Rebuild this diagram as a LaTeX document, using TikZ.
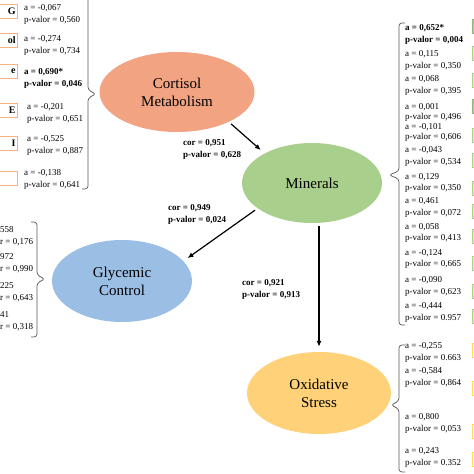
\documentclass[tikz,border=0pt]{standalone}
\usepackage{fontspec}
\setmainfont{Liberation Serif}
\usetikzlibrary{positioning, calc, shapes.geometric, arrows.meta}
\definecolor{cortisolfill}{RGB}{242,164,130}
\definecolor{cortisolline}{RGB}{244,177,131}
\definecolor{mineralfill}{RGB}{168,207,140}
\definecolor{mineralline}{RGB}{169,209,142}
\definecolor{mineraldark}{RGB}{150,180,125}
\definecolor{glycemicfill}{RGB}{155,190,228}
\definecolor{oxidativefill}{RGB}{255,210,122}
\definecolor{oxidativeline}{RGB}{255,217,102}
\tikzstyle{Arrow} = [
%Arrow between two constructs:
line width=1.2pt,
-{Latex[length=6pt, width=5pt]},
shorten >= 5pt, shorten <= 3pt
]

\begin{document}
\begin{tikzpicture}[x=1pt, y=-1pt,
			construct/.style = {ellipse, align=center, inner sep=0pt, font=\fontsize{15}{18}\selectfont},
			stats/.style = {anchor=west, align=left, inner sep=0pt, font=\fontsize{9}{12}\selectfont},
			boldstats/.style = {stats, font=\fontsize{9}{12}\selectfont\bfseries},
			minstats/.style = {stats, font=\fontsize{9}{11.5}\selectfont},
			bracket/.style = {draw=black!65, line width=0.7pt, rounded corners=3pt},
			itembox/.style = {rectangle, line width=0.8pt, minimum height=14pt, inner sep=2pt},
		]
		\useasboundingbox (0,0) rectangle (474,474);
		\clip (0,0) rectangle (474,474);

		% constructs
		\node[construct, fill=cortisolfill, minimum width=155pt, minimum height=80pt](Cortisol) at (177,92){Cortisol\\Metabolism};
		\node[construct, fill=mineralfill, minimum width=140pt, minimum height=80pt](Minerals) at (312,183){Minerals};
		\node[construct, fill=glycemicfill, minimum width=140pt, minimum height=82pt](Glycemic) at (122,281){Glycemic\\Control};
		\node[construct, fill=oxidativefill, minimum width=144pt, minimum height=82pt](Oxidative) at (319,393){Oxidative\\Stress};

		\draw[Arrow](Cortisol.-30)--(Minerals.148);
		\draw[Arrow](Minerals.205)--(Glycemic.18);
		\draw[Arrow](Minerals.south -| Oxidative.north)--(Oxidative.north);

		\node[boldstats](cor1) at (183,149.5){cor = 0,951\\p-valor = 0,628};
		\node[boldstats](cor2) at (168,214.5){cor = 0,949\\p-valor = 0,024};
		\node[boldstats](cor3) at (242,289){cor = 0,921\\p-valor = 0,913};

		% cortisol indicators
		\node[itembox, draw=cortisolline, anchor=east, text width=40pt, align=right, font=\fontsize{10}{12}\selectfont\bfseries](cb1) at (18,11.5){G};
		\node[itembox, draw=cortisolline, anchor=east, text width=40pt, align=right, font=\fontsize{10}{12}\selectfont\bfseries](cb2) at (18,40){ol};
		\node[itembox, draw=cortisolline, anchor=east, text width=40pt, align=right, font=\fontsize{10}{12}\selectfont\bfseries](cb3) at (18,71.5){e};
		\node[itembox, draw=cortisolline, anchor=east, text width=40pt, align=right, font=\fontsize{10}{12}\selectfont\bfseries](cb4) at (18,110){E};
		\node[itembox, draw=cortisolline, anchor=east, text width=40pt, align=right, font=\fontsize{10}{12}\selectfont\bfseries](cb5) at (18,143.5){I};
		\node[itembox, draw=cortisolline, anchor=east, text width=40pt, align=right, font=\fontsize{10}{12}\selectfont\bfseries](cb6) at (18,178.5){};

		\node[stats](c1) at (24,14){a = -0,067\\p-valor = 0,560};
		\node[stats](c2) at (24,45.5){a = -0,274\\p-valor = 0,734};
		\node[boldstats](c3) at (24,78){a = 0,690*\\p-valor = 0,046};
		\node[stats](c4) at (27,113){a = -0,201\\p-valor = 0,651};
		\node[stats](c5) at (27,145.5){a = -0,525\\p-valor = 0,887};
		\node[stats](c6) at (24,179){a = -0,138\\p-valor = 0,641};
		\draw[bracket](82,-3)--(88,-3)--(88,90)--(96,94)--(88,98)--(88,189)--(82,189);

		% glycemic indicators
		\node[stats](g1) at (0,236.5){558\\r = 0,176};
		\node[stats](g2) at (0,263.5){972\\r = 0,990};
		\node[stats](g3) at (0,292.5){225\\r = 0,643};
		\node[stats](g4) at (0,321){41\\r = 0,318};
		\draw[bracket](31,222)--(37,222)--(37,275)--(45,279)--(37,283)--(37,337)--(31,337);

		% mineral indicators
		\node[boldstats](m1) at (405,34){a = 0,652*\\p-valor = 0,004};
		\node[minstats](m2) at (405,60.5){a = 0,115\\p-valor = 0,350};
		\node[minstats](m3) at (405,85.5){a = 0,068\\p-valor = 0,395};
		\node[stats, font=\fontsize{9}{10}\selectfont](m4) at (405,112){a = 0,001\\p-valor = 0,496};
		\node[stats, font=\fontsize{9}{10}\selectfont](m5) at (405,132){a = -0,101\\p-valor = 0,606};
		\node[minstats](m6) at (405,156.5){a = -0,043\\p-valor = 0,534};
		\node[minstats](m7) at (405,183){a = 0,129\\p-valor = 0,350};
		\node[minstats](m8) at (405,207.5){a = 0,461\\p-valor = 0,072};
		\node[minstats](m9) at (405,233){a = 0,058\\p-valor = 0,413};
		\node[minstats](m10) at (405,259){a = -0,124\\p-valor = 0,665};
		\node[minstats](m11) at (405,286.5){a = -0,090\\p-valor = 0,623};
		\node[minstats](m12) at (405,312.5){a = -0,444\\p-valor = 0.957};
		\draw[bracket](405,23)--(399,23)--(399,171)--(389,175)--(399,179)--(399,325)--(405,325);

		\node[itembox, draw=mineraldark, fill=mineralline, anchor=west, minimum width=30pt](mb1) at (472,26.5){};
		\node[itembox, draw=mineralline, fill=mineralline!40, anchor=west, minimum width=30pt](mb2) at (472,53.5){};
		\node[itembox, draw=mineralline, fill=mineralline!40, anchor=west, minimum width=30pt](mb3) at (472,80.5){};
		\node[itembox, draw=mineraldark, fill=mineralline, anchor=west, minimum width=30pt](mb4) at (472,106.5){};
		\node[itembox, draw=mineralline, fill=mineralline!40, anchor=west, minimum width=30pt](mb5) at (472,135){};
		\node[itembox, draw=mineralline, fill=mineralline!40, anchor=west, minimum width=30pt](mb6) at (472,160){};
		\node[itembox, draw=mineralline, fill=mineralline!40, anchor=west, minimum width=30pt](mb7) at (472,188.5){};
		\node[itembox, draw=mineralline, fill=mineralline!40, anchor=west, minimum width=30pt](mb8) at (472,211.5){};
		\node[itembox, draw=mineralline, fill=mineralline!40, anchor=west, minimum width=30pt](mb9) at (472,236.5){};
		\node[itembox, draw=mineralline, fill=mineralline!40, anchor=west, minimum width=30pt](mb10) at (472,263.5){};
		\node[itembox, draw=mineralline, fill=mineralline!40, anchor=west, minimum width=30pt](mb11) at (472,291){};
		\node[itembox, draw=mineralline, fill=mineralline!40, anchor=west, minimum width=30pt](mb12) at (472,316.5){};

		% oxidative indicators
		\node[stats](o1) at (405,352){a = -0,255\\p-valor = 0.663};
		\node[stats](o2) at (405,377.5){a = -0,584\\p-valor = 0,864};
		\node[stats](o3) at (405,423.5){a = 0,800\\p-valor = 0,053};
		\node[stats](o4) at (405,457.5){a = 0,243\\p-valor = 0.352};
		\draw[bracket](405,345)--(399,345)--(399,401)--(391,405)--(399,409)--(399,472)--(405,472);

		\node[itembox, draw=oxidativeline, anchor=west, minimum width=30pt](ob1) at (472,350){};
		\node[itembox, draw=oxidativeline, anchor=west, minimum width=30pt](ob2) at (472,388.5){};
		\node[itembox, draw=oxidativeline, anchor=west, minimum width=30pt](ob3) at (472,431.5){};
		\node[itembox, draw=oxidativeline, anchor=west, minimum width=30pt](ob4) at (472,459.5){};
	\end{tikzpicture}
\end{document}
